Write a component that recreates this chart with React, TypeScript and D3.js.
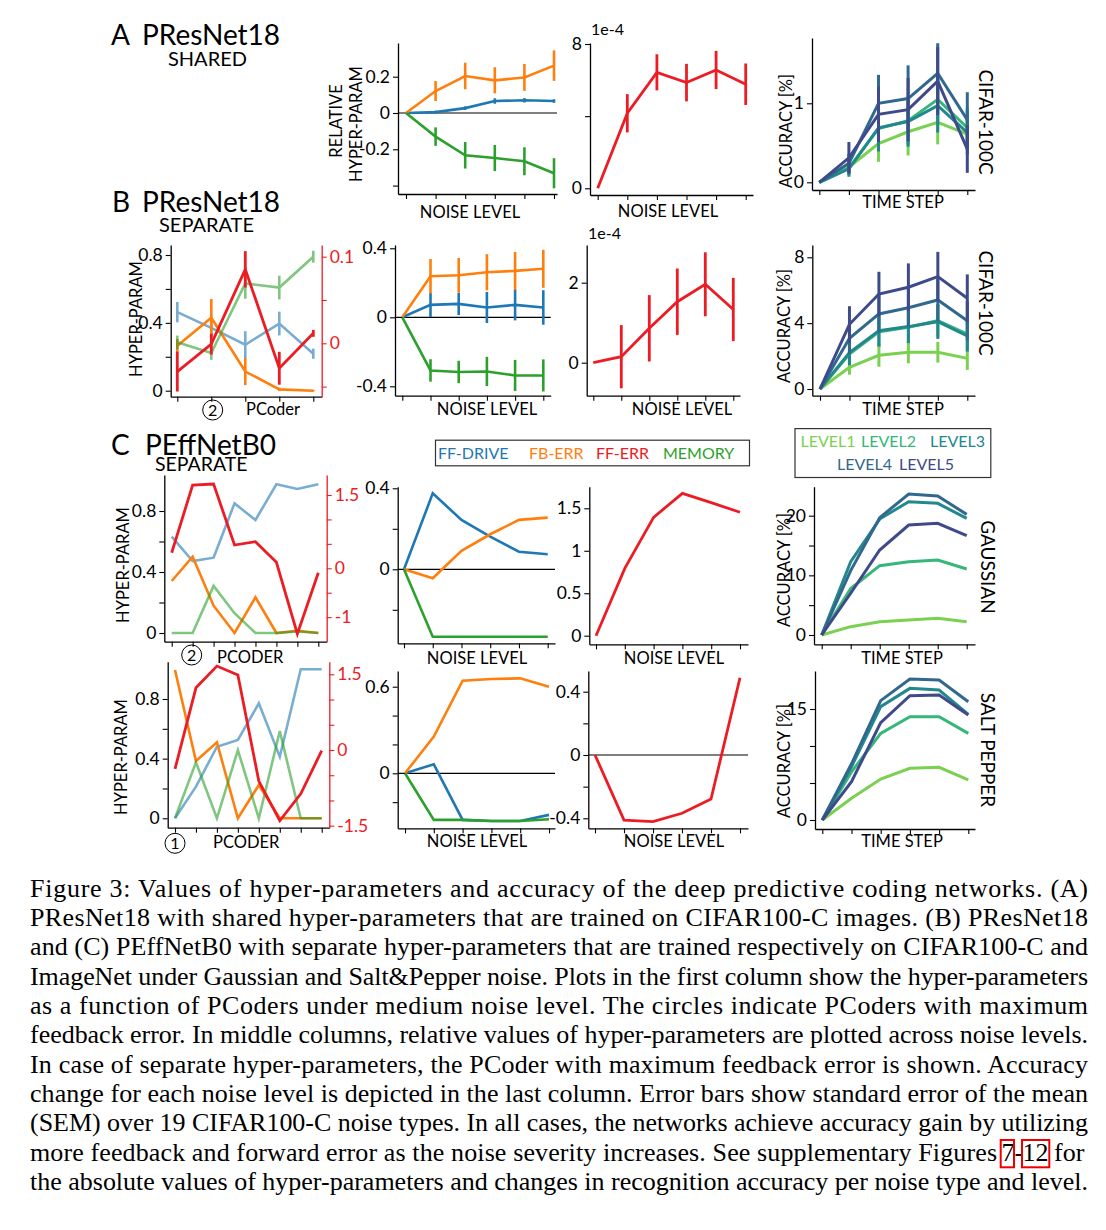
import React, { useEffect, useRef } from 'react';
import * as d3 from 'd3';

const FONT = 'Lato, "Open Sans", sans-serif';
const SERIF = '"Liberation Serif", "DejaVu Serif", serif';

const BLUE = '#1f77b4';
const ORANGE = '#ff7f0e';
const RED = '#ec1c24';
const GREEN = '#2ca02c';
const LEVEL_COLORS = ['#7ad151', '#35b779', '#23888e', '#31688e', '#3e4a89'];

const HP_NAMES = ['FF-DRIVE', 'FB-ERR', 'FF-ERR', 'MEMORY'];
const HP_COLORS = [BLUE, ORANGE, RED, GREEN];
const LEVELS = ['LEVEL1', 'LEVEL2', 'LEVEL3', 'LEVEL4', 'LEVEL5'];

// ---- A: PResNet18 shared ----
const aRelDrive = [0, 0.005, 0.027, 0.066, 0.07, 0.066];
const aRelDriveErr = [0, 0.008, 0.01, 0.015, 0.012, 0.01];
const aRelFbErr = [0, 0.121, 0.204, 0.18, 0.196, 0.261];
const aRelFbErrErr = [0, 0.055, 0.073, 0.072, 0.074, 0.084];
const aRelMemory = [0, -0.13, -0.233, -0.248, -0.266, -0.332];
const aRelMemoryErr = [0, 0.051, 0.073, 0.072, 0.077, 0.083];
const aFfErr = [0, 4.16, 6.43, 5.86, 6.56, 5.77];
const aFfErrErr = [0, 1.06, 1.0, 1.04, 1.06, 1.15];
const aAcc = [
  [0, 0.19, 0.49, 0.64, 0.76, 0.61],
  [0, 0.18, 0.68, 0.78, 1.05, 0.69],
  [0, 0.17, 0.69, 0.77, 0.97, 0.63],
  [0, 0.24, 1.0, 1.06, 1.38, 0.79],
  [0, 0.31, 0.86, 0.92, 1.28, 0.42],
];
const aAccErr = [
  [0, 0.09, 0.23, 0.3, 0.28, 0.2],
  [0, 0.09, 0.27, 0.3, 0.33, 0.25],
  [0, 0.1, 0.3, 0.32, 0.34, 0.28],
  [0, 0.12, 0.36, 0.42, 0.38, 0.35],
  [0, 0.2, 0.35, 0.4, 0.43, 0.3],
];

// ---- B: PResNet18 separate ----
const bHpDrive = [0.463, 0.37, 0.271, 0.396, 0.218];
const bHpDriveErr = [0.06, 0.05, 0.08, 0.07, 0.03];
const bHpFbErr = [0.265, 0.43, 0.113, 0.008, 0.0];
const bHpFbErrErr = [0.04, 0.11, 0.08, 0.01, 0.005];
const bHpMemory = [0.285, 0.222, 0.632, 0.608, 0.79];
const bHpMemoryErr = [0.04, 0.04, 0.09, 0.07, 0.035];
const bHpFfErr = [-0.0327, -0.001, 0.0854, -0.0288, 0.0115];
const bHpFfErrErr = [0.023, 0.012, 0.021, 0.019, 0.004];
const bRelDrive = [0, 0.072, 0.078, 0.057, 0.072, 0.057];
const bRelDriveErr = [0, 0.07, 0.065, 0.09, 0.09, 0.1];
const bRelFbErr = [0, 0.238, 0.244, 0.261, 0.269, 0.281];
const bRelFbErrErr = [0, 0.1, 0.1, 0.105, 0.11, 0.11];
const bRelMemory = [0, -0.308, -0.317, -0.314, -0.337, -0.337];
const bRelMemoryErr = [0, 0.065, 0.065, 0.085, 0.09, 0.093];
const bFfErr = [0, 0.15, 0.86, 1.525, 1.96, 1.33];
const bFfErrErr = [0, 0.79, 0.83, 0.83, 0.8, 0.79];
const bAcc = [
  [0, 1.32, 2.05, 2.23, 2.23, 1.86],
  [0, 2.13, 3.48, 3.75, 4.15, 3.34],
  [0, 2.21, 3.54, 3.79, 4.09, 3.22],
  [0, 3.08, 4.56, 4.94, 5.41, 4.15],
  [0, 3.93, 5.77, 6.18, 6.83, 5.51],
];
const bAccErr = [
  [0, 0.45, 0.7, 0.67, 0.63, 0.7],
  [0, 0.7, 0.9, 0.95, 1.0, 0.9],
  [0, 0.75, 0.95, 1.0, 1.05, 0.95],
  [0, 0.95, 1.15, 1.2, 1.3, 1.2],
  [0, 1.1, 1.35, 1.45, 1.5, 1.45],
];

// ---- C: PEffNetB0 separate, Gaussian ----
const cgHpDrive = [0.632, 0.472, 0.494, 0.85, 0.741, 0.975, 0.944, 0.975];
const cgHpFbErr = [0.341, 0.5, 0.179, 0, 0.234, 0, 0.015, 0];
const cgHpMemory = [0, 0, 0.309, 0.13, 0, 0, 0.01, 0];
const cgHpFfErr = [0.319, 1.703, 1.724, 0.476, 0.544, 0.123, -1.344, -0.09];
const cgRelDrive = [0, 0.375, 0.244, 0.161, 0.087, 0.074];
const cgRelFbErr = [0, -0.044, 0.091, 0.173, 0.244, 0.255];
const cgRelMemory = [0, -0.333, -0.333, -0.333, -0.333, -0.333];
const cgFfErr = [0, 0.793, 1.394, 1.676, 1.567, 1.453];
const cgAcc = [
  [0, 1.4, 2.23, 2.51, 2.79, 2.23],
  [0, 7.8, 11.62, 12.29, 12.57, 11.06],
  [0, 12.3, 19.44, 22.35, 22.07, 19.55],
  [0, 10.8, 19.67, 23.63, 23.3, 20.22],
  [0, 7.0, 14.25, 18.44, 18.72, 16.65],
];

// ---- C: PEffNetB0 separate, Salt & Pepper ----
const csHpDrive = [0, 0.212, 0.48, 0.525, 0.771, 0.413, 1.0, 1.0];
const csHpFbErr = [0.994, 0.384, 0.509, 0, 0.223, 0, 0, 0];
const csHpMemory = [0, 0.375, 0, 0.457, 0, 0.585, 0, 0];
const csHpFfErr = [-0.376, 1.232, 1.663, 1.485, -0.616, -1.402, -0.869, -0.014];
const csRelDrive = [0, 0.062, -0.323, -0.33, -0.33, -0.288];
const csRelFbErr = [0, 0.254, 0.642, 0.653, 0.658, 0.6];
const csRelMemory = [0, -0.323, -0.323, -0.33, -0.33, -0.318];
const csFfErr = [0, -0.411, -0.421, -0.368, -0.278, 0.488];
const csAcc = [
  [0, 2.93, 5.54, 6.98, 7.12, 5.41],
  [0, 6.5, 11.71, 13.96, 13.96, 11.71],
  [0, 7.2, 15.32, 17.79, 17.57, 14.28],
  [0, 7.6, 16.13, 19.05, 18.92, 15.99],
  [0, 5.18, 13.15, 16.8, 16.9, 14.19],
];

const CAPTION = [
  'Figure 3: Values of hyper-parameters and accuracy of the deep predictive coding networks. (A)',
  'PResNet18 with shared hyper-parameters that are trained on CIFAR100-C images. (B) PResNet18',
  'and (C) PEffNetB0 with separate hyper-parameters that are trained respectively on CIFAR100-C and',
  'ImageNet under Gaussian and Salt&Pepper noise. Plots in the first column show the hyper-parameters',
  'as a function of PCoders under medium noise level. The circles indicate PCoders with maximum',
  'feedback error. In middle columns, relative values of hyper-parameters are plotted across noise levels.',
  'In case of separate hyper-parameters, the PCoder with maximum feedback error is shown. Accuracy',
  'change for each noise level is depicted in the last column. Error bars show standard error of the mean',
  '(SEM) over 19 CIFAR100-C noise types. In all cases, the networks achieve accuracy gain by utilizing',
  'more feedback and forward error as the noise severity increases. See supplementary Figures',
  'the absolute values of hyper-parameters and changes in recognition accuracy per noise type and level.',
];

type Series = {
  values: number[];
  err?: number[];
  color: string;
  width?: number;
  opacity?: number;
  right?: boolean;
};

type Cal = [number, number, number, number]; // value a at px a, value b at px b

type PanelCfg = {
  box: [number, number, number, number]; // left, top, right, bottom
  pts: [number, number];
  n: number;
  yCal: Cal;
  yTicks: number[];
  yLabels: number[];
  rCal?: Cal;
  rTicks?: number[];
  rLabels?: number[];
  zero?: boolean;
  series: Series[];
};

const calScale = (c: Cal, bottom: number, top: number) => {
  const cal = d3.scaleLinear().domain([c[0], c[2]]).range([c[1], c[3]]);
  return d3.scaleLinear().domain([cal.invert(bottom), cal.invert(top)]).range([bottom, top]);
};

const Axis: React.FC<{
  scale: d3.ScaleLinear<number, number>;
  orient: 'left' | 'right' | 'bottom';
  tx: number;
  ty: number;
  ticks: number[];
  labels: number[];
  color?: string;
}> = ({ scale, orient, tx, ty, ticks, labels, color = '#000' }) => {
  const ref = useRef<SVGGElement>(null);
  useEffect(() => {
    if (!ref.current) return;
    const axis =
      orient === 'left' ? d3.axisLeft(scale) : orient === 'right' ? d3.axisRight(scale) : d3.axisBottom(scale);
    axis
      .tickValues(ticks)
      .tickSize(5)
      .tickSizeOuter(0)
      .tickPadding(3)
      .tickFormat(d => (labels.includes(d as number) ? String(d) : ''));
    const g = d3.select(ref.current);
    g.selectAll('*').remove();
    g.call(axis as any);
    g.attr('font-family', FONT).attr('font-size', 17.5).attr('color', color);
    g.select('.domain').attr('stroke-width', 1.3);
    g.selectAll('.tick line').attr('stroke-width', 1.1);
  });
  return <g ref={ref} transform={`translate(${tx},${ty})`} />;
};

const Panel: React.FC<{ cfg: PanelCfg }> = ({ cfg }) => {
  const [l, t, r, b] = cfg.box;
  const xc = d3.scaleLinear().domain([0, cfg.n - 1]).range(cfg.pts);
  const x = d3.scaleLinear().domain([xc.invert(l), xc.invert(r)]).range([l, r]);
  const y = calScale(cfg.yCal, b, t);
  const yr = cfg.rCal ? calScale(cfg.rCal, b, t) : null;
  const idx = d3.range(cfg.n);
  return (
    <g>
      {cfg.zero && <line x1={l} x2={r} y1={y(0)} y2={y(0)} stroke="#000" strokeWidth={1.2} />}
      {cfg.series.map((s, si) => {
        const ys = s.right && yr ? yr : y;
        const line = d3
          .line<number>()
          .x((_, i) => x(i))
          .y(v => ys(v));
        return (
          <g key={si} opacity={s.opacity ?? 1}>
            {s.err &&
              s.values.map((v, i) =>
                s.err![i] > 0 ? (
                  <line
                    key={i}
                    x1={x(i)}
                    x2={x(i)}
                    y1={ys(v - s.err![i])}
                    y2={ys(v + s.err![i])}
                    stroke={s.color}
                    strokeWidth={s.width ?? 2.6}
                  />
                ) : null
              )}
            <path d={line(s.values) ?? ''} fill="none" stroke={s.color} strokeWidth={s.width ?? 2.6} />
          </g>
        );
      })}
      <Axis scale={x} orient="bottom" tx={0} ty={b} ticks={idx} labels={[]} />
      <Axis scale={y} orient="left" tx={l} ty={0} ticks={cfg.yTicks} labels={cfg.yLabels} />
      {yr && (
        <Axis scale={yr} orient="right" tx={r} ty={0} ticks={cfg.rTicks ?? []} labels={cfg.rLabels ?? []} color={RED} />
      )}
    </g>
  );
};

const hpSeries = (drive: number[], fb: number[], mem: number[], ff: number[], e?: number[][]): Series[] => [
  { values: drive, err: e?.[0], color: BLUE, opacity: 0.6 },
  { values: fb, err: e?.[1], color: ORANGE },
  { values: mem, err: e?.[2], color: GREEN, opacity: 0.6 },
  { values: ff, err: e?.[3], color: RED, right: true, width: 2.8 },
];
const relSeries = (drive: number[], fb: number[], mem: number[], e?: number[][]): Series[] => [
  { values: drive, err: e?.[0], color: BLUE },
  { values: fb, err: e?.[1], color: ORANGE },
  { values: mem, err: e?.[2], color: GREEN },
];
const accSeries = (acc: number[][], err?: number[][]): Series[] =>
  acc.map((v, i) => ({ values: v, err: err?.[i], color: LEVEL_COLORS[i], width: 3 }));

const PANELS: PanelCfg[] = [
  // A
  {
    box: [398, 43, 557, 194], pts: [406, 554], n: 6, yCal: [0, 113, 0.2, 76.7],
    yTicks: [-0.4, -0.2, 0, 0.2], yLabels: [-0.2, 0, 0.2], zero: true,
    series: relSeries(aRelDrive, aRelFbErr, aRelMemory, [aRelDriveErr, aRelFbErrErr, aRelMemoryErr]),
  },
  {
    box: [590, 43, 753, 195], pts: [597.7, 745.7], n: 6, yCal: [0, 188.3, 8, 44],
    yTicks: [0, 4, 8], yLabels: [0, 8],
    series: [{ values: aFfErr, err: aFfErrErr, color: RED, width: 2.8 }],
  },
  {
    box: [812, 38, 975, 190], pts: [819.3, 967.3], n: 6, yCal: [0, 182.3, 1, 103.3],
    yTicks: [0, 1], yLabels: [0, 1],
    series: accSeries(aAcc, aAccErr),
  },
  // B
  {
    box: [170.7, 245, 321.7, 396.7], pts: [177.3, 313.3], n: 5, yCal: [0, 390.7, 0.8, 255],
    yTicks: [0, 0.2, 0.4, 0.6, 0.8], yLabels: [0, 0.4, 0.8],
    rCal: [0, 343.3, 0.1, 256.7], rTicks: [-0.05, 0, 0.05, 0.1], rLabels: [0, 0.1],
    series: hpSeries(bHpDrive, bHpFbErr, bHpMemory, bHpFfErr, [bHpDriveErr, bHpFbErrErr, bHpMemoryErr, bHpFfErrErr]),
  },
  {
    box: [395, 245, 550.7, 395.7], pts: [402.3, 543.3], n: 6, yCal: [0, 317.3, 0.4, 248.3],
    yTicks: [-0.4, 0, 0.4], yLabels: [-0.4, 0, 0.4], zero: true,
    series: relSeries(bRelDrive, bRelFbErr, bRelMemory, [bRelDriveErr, bRelFbErrErr, bRelMemoryErr]),
  },
  {
    box: [586.7, 245, 740, 395.7], pts: [593.3, 733.3], n: 6, yCal: [0, 362.7, 2, 282.7],
    yTicks: [0, 2], yLabels: [0, 2],
    series: [{ values: bFfErr, err: bFfErrErr, color: RED, width: 2.8 }],
  },
  {
    box: [812.3, 245, 975, 395.7], pts: [820, 967.3], n: 6, yCal: [0, 389, 8, 257.3],
    yTicks: [0, 4, 8], yLabels: [0, 4, 8],
    series: accSeries(bAcc, bAccErr),
  },
  // C Gaussian
  {
    box: [164.3, 475, 326.7, 641.7], pts: [171.7, 318.3], n: 8, yCal: [0, 633, 0.8, 511],
    yTicks: [0, 0.2, 0.4, 0.6, 0.8], yLabels: [0, 0.4, 0.8],
    rCal: [0, 568.3, 1.5, 495], rTicks: [-1, -0.5, 0, 0.5, 1, 1.5], rLabels: [-1, 0, 1.5],
    series: hpSeries(cgHpDrive, cgHpFbErr, cgHpMemory, cgHpFfErr),
  },
  {
    box: [397.7, 486.7, 555, 643.3], pts: [404, 547.7], n: 6, yCal: [0, 569.3, 0.4, 488.3],
    yTicks: [-0.2, 0, 0.2, 0.4], yLabels: [0, 0.4], zero: true,
    series: relSeries(cgRelDrive, cgRelFbErr, cgRelMemory),
  },
  {
    box: [589.3, 486.7, 748, 644.3], pts: [596, 740], n: 6, yCal: [0, 635.7, 1.5, 508.3],
    yTicks: [0, 0.5, 1, 1.5], yLabels: [0, 0.5, 1, 1.5],
    series: [{ values: cgFfErr, color: RED, width: 2.8 }],
  },
  {
    box: [814, 486.7, 975, 644.3], pts: [821.7, 966.7], n: 6, yCal: [0, 635, 20, 515.7],
    yTicks: [0, 5, 10, 15, 20], yLabels: [0, 10, 20],
    series: accSeries(cgAcc),
  },
  // C Salt & Pepper
  {
    box: [167.7, 661.7, 329.3, 827.7], pts: [175, 321.7], n: 8, yCal: [0, 818.3, 0.8, 699],
    yTicks: [0, 0.2, 0.4, 0.6, 0.8], yLabels: [0, 0.4, 0.8],
    rCal: [0, 750, 1.5, 674.3], rTicks: [-1.5, -1, -0.5, 0, 0.5, 1, 1.5], rLabels: [-1.5, 0, 1.5],
    series: hpSeries(csHpDrive, csHpFbErr, csHpMemory, csHpFfErr),
  },
  {
    box: [397.7, 671, 555, 828.3], pts: [405, 549], n: 6, yCal: [0, 773.3, 0.6, 686.7],
    yTicks: [-0.2, 0, 0.2, 0.4, 0.6], yLabels: [0, 0.6], zero: true,
    series: relSeries(csRelDrive, csRelFbErr, csRelMemory),
  },
  {
    box: [588.3, 671, 748, 828.3], pts: [595, 740], n: 6, yCal: [0, 755, 0.4, 691.7],
    yTicks: [-0.4, -0.2, 0, 0.2, 0.4], yLabels: [-0.4, 0, 0.4], zero: true,
    series: [{ values: csFfErr, color: RED, width: 2.8 }],
  },
  {
    box: [815, 671, 975, 829], pts: [822.3, 968.3], n: 6, yCal: [0, 820, 15, 709],
    yTicks: [0, 5, 10, 15], yLabels: [0, 15],
    series: accSeries(csAcc),
  },
];

type Lbl = { t: string; x: number; y: number; rot?: number; size?: number; anchor?: string; color?: string };

const LABELS: Lbl[] = [
  { t: 'A', x: 111, y: 45, size: 28 },
  { t: 'PResNet18', x: 142, y: 45, size: 28 },
  { t: 'SHARED', x: 168, y: 66, size: 20 },
  { t: 'B', x: 112, y: 212, size: 28 },
  { t: 'PResNet18', x: 142, y: 212, size: 28 },
  { t: 'SEPARATE', x: 159, y: 232, size: 20 },
  { t: 'C', x: 111, y: 455, size: 28 },
  { t: 'PEffNetB0', x: 145, y: 455, size: 28 },
  { t: 'SEPARATE', x: 155, y: 471, size: 19.5 },
  // A
  { t: 'RELATIVE', x: 342, y: 121, rot: -90, anchor: 'middle' },
  { t: 'HYPER-PARAM', x: 362, y: 124, rot: -90, anchor: 'middle' },
  { t: 'NOISE LEVEL', x: 470, y: 218, anchor: 'middle' },
  { t: '1e-4', x: 591, y: 35, size: 16 },
  { t: 'NOISE LEVEL', x: 668, y: 217, anchor: 'middle' },
  { t: 'ACCURACY [%]', x: 792, y: 131, rot: -90, anchor: 'middle' },
  { t: 'TIME STEP', x: 903, y: 208, anchor: 'middle' },
  { t: 'CIFAR-100C', x: 979, y: 122, rot: 90, anchor: 'middle', size: 19 },
  // B
  { t: 'HYPER-PARAM', x: 142, y: 319, rot: -90, anchor: 'middle' },
  { t: 'PCoder', x: 246, y: 415 },
  { t: 'NOISE LEVEL', x: 487, y: 415, anchor: 'middle' },
  { t: '1e-4', x: 588, y: 239, size: 16 },
  { t: 'NOISE LEVEL', x: 682, y: 415, anchor: 'middle' },
  { t: 'ACCURACY [%]', x: 790, y: 326, rot: -90, anchor: 'middle' },
  { t: 'TIME STEP', x: 903, y: 415, anchor: 'middle' },
  { t: 'CIFAR-100C', x: 979, y: 303, rot: 90, anchor: 'middle', size: 19 },
  // C gaussian
  { t: 'HYPER-PARAM', x: 129, y: 565, rot: -90, anchor: 'middle' },
  { t: 'PCODER', x: 217, y: 663 },
  { t: 'NOISE LEVEL', x: 477, y: 664, anchor: 'middle' },
  { t: 'NOISE LEVEL', x: 674, y: 664, anchor: 'middle' },
  { t: 'ACCURACY [%]', x: 790, y: 570, rot: -90, anchor: 'middle' },
  { t: 'TIME STEP', x: 902, y: 664, anchor: 'middle' },
  { t: 'GAUSSIAN', x: 981, y: 567, rot: 90, anchor: 'middle', size: 19 },
  // C salt pepper
  { t: 'HYPER-PARAM', x: 127, y: 757, rot: -90, anchor: 'middle' },
  { t: 'PCODER', x: 213, y: 848 },
  { t: 'NOISE LEVEL', x: 477, y: 847, anchor: 'middle' },
  { t: 'NOISE LEVEL', x: 674, y: 847, anchor: 'middle' },
  { t: 'ACCURACY [%]', x: 790, y: 761, rot: -90, anchor: 'middle' },
  { t: 'TIME STEP', x: 902, y: 847, anchor: 'middle' },
  { t: 'SALT PEPPER', x: 981, y: 750, rot: 90, anchor: 'middle', size: 19 },
];

const CIRCLES = [
  { t: '2', x: 212.7, y: 410 },
  { t: '2', x: 191.7, y: 655 },
  { t: '1', x: 175, y: 843.3 },
];

const HP_LEGEND_X = [438, 529, 596, 663];
const LEVEL_LEGEND_POS = [
  [800.5, 447],
  [861, 447],
  [930, 447],
  [837, 470],
  [899, 470],
];

export default function App() {
  const capY = d3.scaleLinear().domain([0, 10]).range([896.5, 1190]);
  return (
    <svg
      width={1106}
      height={1230}
      style={{ position: 'absolute', left: 0, top: 0, background: '#fff' }}
      fontFamily={FONT}
    >
      <rect width={1106} height={1230} fill="#fff" />
      {PANELS.map((p, i) => (
        <Panel key={i} cfg={p} />
      ))}
      {LABELS.map((l, i) => (
        <text
          key={i}
          transform={`translate(${l.x},${l.y})${l.rot ? ` rotate(${l.rot})` : ''}`}
          fontSize={l.size ?? 16.5}
          textAnchor={l.anchor ?? 'start'}
          fill={l.color ?? '#000'}
        >
          {l.t}
        </text>
      ))}
      {CIRCLES.map((c, i) => (
        <g key={i}>
          <circle cx={c.x} cy={c.y} r={10} fill="none" stroke="#000" strokeWidth={1} />
          <text x={c.x} y={c.y + 5.5} fontSize={16} textAnchor="middle">
            {c.t}
          </text>
        </g>
      ))}
      {/* hyper-parameter legend */}
      <rect x={435.5} y={440.2} width={314} height={25.6} fill="none" stroke="#333" strokeWidth={1.2} />
      {HP_NAMES.map((n, i) => (
        <text key={n} x={HP_LEGEND_X[i]} y={459} fontSize={16} fill={HP_COLORS[i]}>
          {n}
        </text>
      ))}
      {/* level legend */}
      <rect x={795} y={428.6} width={195.8} height={48.9} fill="none" stroke="#333" strokeWidth={1.2} />
      {LEVELS.map((n, i) => (
        <text key={n} x={LEVEL_LEGEND_POS[i][0]} y={LEVEL_LEGEND_POS[i][1]} fontSize={16} fill={LEVEL_COLORS[i]}>
          {n}
        </text>
      ))}
      {/* caption */}
      <g fontFamily={SERIF} fontSize={26} fill="#000">
        {CAPTION.map((line, i) => (
          <text
            key={i}
            x={30}
            y={capY(i)}
            textLength={i === 9 ? 967 : 1058}
            lengthAdjust="spacing"
          >
            {line}
          </text>
        ))}
        <text x={1001.5} y={capY(9)}>7</text>
        <text x={1014.5} y={capY(9)}>-</text>
        <text x={1022.5} y={capY(9)}>12</text>
        <text x={1054} y={capY(9)}>for</text>
        <rect x={1000.7} y={1140} width={13.3} height={27.3} fill="none" stroke="#e00" strokeWidth={2} />
        <rect x={1022} y={1140} width={27.3} height={27.3} fill="none" stroke="#e00" strokeWidth={2} />
      </g>
    </svg>
  );
}
